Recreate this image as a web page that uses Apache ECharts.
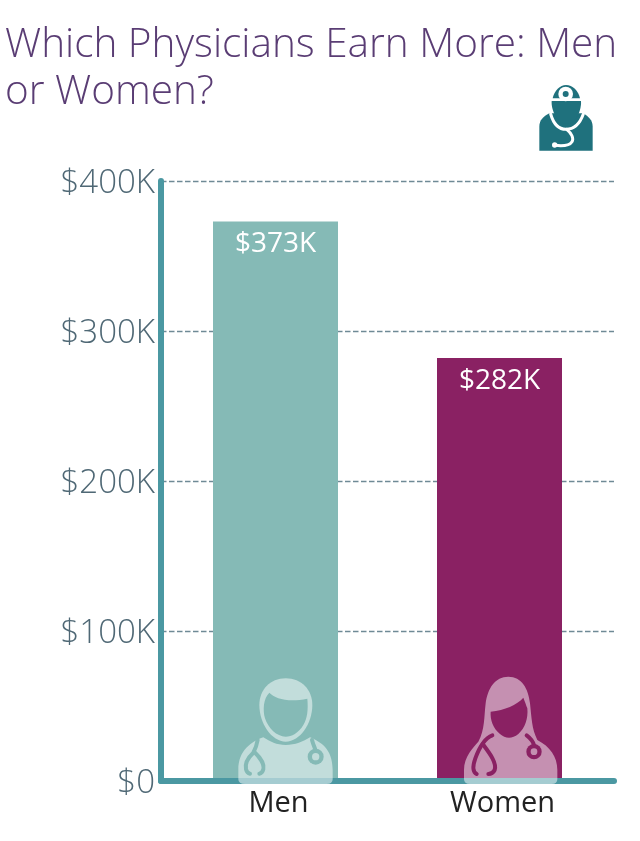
<!DOCTYPE html>
<html>
<head>
<meta charset="utf-8">
<style>html,body{margin:0;padding:0;background:#fff}#chart{width:640px;height:841px}</style>
<script src="https://cdn.jsdelivr.net/npm/echarts@6/dist/echarts.min.js"></script>
</head>
<body>
<div id="chart"></div>
<script>
// Average physician pay, in thousands of dollars
const categories = ['Men', 'Women'];
const categoryPositions = [1, 2];
const pay = [373, 282];
const barColors = ['#85bab6', '#8a2163'];
const payTicks = [0, 100, 200, 300, 400];

const FONT = '"Open Sans"';
const TEAL = '#4b98a2';

// Person glyphs are authored on a 3x canvas and scaled down when placed.
function glyph(x, y, children) {
  return { type: 'group', x, y, scaleX: 1 / 3, scaleY: 1 / 3, children };
}
let shapeCount = 0;
function pathType(d) {
  const name = 'glyphPath' + (shapeCount++);
  echarts.graphic.registerShape(name, echarts.graphic.extendPath(d, {}));
  return name;
}
const solid = (d, fill) => ({ type: pathType(d), z: 20, style: { fill } });
const tube = (d, stroke, w) => ({ type: pathType(d), z: 21, style: { fill: 'none', stroke, lineWidth: w, lineCap: 'round' } });
const ring = (cx, cy, r, fill, z) => ({ type: 'circle', z: z || 21, shape: { cx, cy, r }, style: { fill } });

const HALO = 'rgba(255,255,255,0.5)';
const manGlyph = glyph(220, 660, [
  solid('M197 55C245 55 277 90 277 135C277 190 240 245 197 245C155 245 118 190 118 135C118 90 150 55 197 55Z', HALO),
  solid('M148 98C165 116 205 128 262 116C265 150 262 175 250 195C235 220 215 230 197 230C170 230 145 205 135 175C128 150 130 115 148 98Z', barColors[0]),
  solid('M130 232C150 245 170 255 197 255C225 255 250 245 270 232C300 245 338 265 338 330L338 358Q338 372 320 372L75 372Q55 372 55 358L55 330C55 270 95 245 130 232Z', HALO),
  tube('M113 240C110 258 105 268 100 278C85 292 74 310 78 328C80 336 84 340 90 341', barColors[0], 12),
  tube('M103 276C118 290 134 312 130 328C128 336 124 340 118 341', barColors[0], 12),
  tube('M276 240C280 255 284 262 287 272', barColors[0], 12),
  ring(287, 290, 24, barColors[0]),
  ring(287, 290, 11, '#c2dcda', 22)
]);
const womanGlyph = glyph(440, 660, [
  solid('M205 50C245 50 265 85 270 130C275 175 275 205 292 240C330 260 352 290 352 330L352 358Q352 372 335 372L90 372Q72 372 72 358L72 330C72 290 100 262 115 245C135 210 132 170 137 130C143 85 165 50 205 50Z', HALO),
  solid('M152 155C195 150 230 135 250 113C255 125 258 135 262 145C265 175 255 205 235 222C215 238 195 235 180 222C160 205 150 180 152 155Z', barColors[1]),
  tube('M157 226C132 235 117 265 106 295C97 320 97 335 110 342', barColors[1], 12),
  tube('M128 252C145 275 172 308 164 330C160 338 155 342 145 342', barColors[1], 12),
  tube('M260 226C272 235 280 245 283 258', barColors[1], 12),
  ring(282, 275, 23, barColors[1]),
  ring(282, 275, 10, '#c490b1', 22)
]);
const INK = '#1f717d';
const doctorGlyph = glyph(520, 70, [
  solid('M98 85C103 62 120 45 138 45C158 45 175 62 180 85Z', INK),
  ring(137, 72, 22, '#ffffff'),
  ring(137, 72, 9, INK, 22),
  solid('M88 130C70 140 58 150 58 170L58 242L218 242L218 170C218 150 205 140 190 130Z', INK),
  solid('M95 93L183 93C185 125 165 162 140 162C115 162 93 125 95 93Z', INK),
  tube('M92 132C100 160 115 178 138 178C165 178 180 160 190 132', '#ffffff', 9),
  tube('M140 178C155 190 162 205 156 215C148 228 125 228 106 226', '#ffffff', 9),
  ring(104, 225, 8, '#ffffff')
]);

const xRange = { min: 0.48884, max: 2.51116 };

const chart = echarts.init(document.getElementById('chart'), null, { renderer: 'canvas' });
chart.setOption({
  animation: false,
  backgroundColor: '#ffffff',
  title: {
    text: 'Which Physicians Earn More: Men\nor Women?',
    left: 0, top: 17,
    textStyle: { fontFamily: FONT, fontWeight: 300, fontSize: 40.5, lineHeight: 47, color: '#5a3d74' }
  },
  grid: { left: 161, right: 26, top: 181, bottom: 60 },
  xAxis: [
    {
      type: 'value', ...xRange,
      axisLine: { show: false }, axisTick: { show: false }, splitLine: { show: false },
      axisLabel: {
        customValues: categoryPositions,
        formatter: v => categories[categoryPositions.indexOf(v)] || '',
        margin: 8, padding: [0, 0, 0, 6], color: '#222222', fontFamily: FONT, fontSize: 29
      }
    },
    {
      // Baseline sits above the bars, so it has its own axis with a higher z
      type: 'value', ...xRange, position: 'bottom', z: 5,
      axisLine: { show: true, onZero: false, lineStyle: { color: TEAL, width: 6, cap: 'round' } },
      axisTick: { show: false }, axisLabel: { show: false }, splitLine: { show: false }
    }
  ],
  yAxis: {
    type: 'value', min: 0, max: 400, interval: 100,
    axisLine: { show: true, lineStyle: { color: TEAL, width: 6, cap: 'round' } },
    axisTick: { show: false },
    axisLabel: {
      margin: 6, verticalAlign: 'top', lineHeight: 6,
      color: '#4f6875', fontFamily: FONT, fontWeight: 300, fontSize: 33,
      customValues: payTicks,
      formatter: v => v === 0 ? '$0' : '$' + v + 'K'
    },
    splitLine: { show: true, lineStyle: { color: '#6f8a96', width: 1.3, type: [5.5, 2.5] } }
  },
  series: [{
    type: 'bar',
    barWidth: 125,
    data: pay.map((v, i) => ({
      value: [categoryPositions[i], v],
      itemStyle: { color: barColors[i] }
    })),
    label: {
      show: true, position: 'insideTop', distance: 9,
      formatter: p => '$' + p.value[1] + 'K',
      color: '#ffffff', fontFamily: FONT, fontSize: 28
    }
  }],
  graphic: [manGlyph, womanGlyph, doctorGlyph]
});
</script>
</body>
</html>
